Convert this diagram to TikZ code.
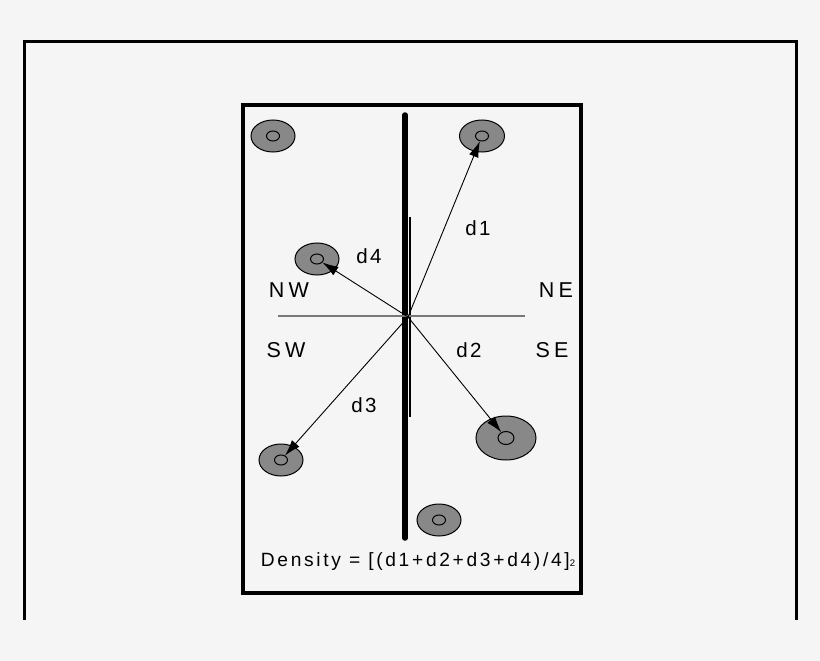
\documentclass[tikz,border=0pt]{standalone}
\usepackage{fontspec}
\setmainfont{Liberation Sans}
\usetikzlibrary{shapes.geometric, arrows.meta}
\definecolor{bg}{RGB}{245,245,245}
\definecolor{discgray}{RGB}{136,136,136}
\definecolor{axisgray}{RGB}{120,120,120}

\begin{document}
\begin{tikzpicture}[x=1pt, y=-1pt,
  disc/.style={ellipse, draw, line width=1pt, fill=discgray, inner sep=0pt},
  hole/.style={ellipse, draw, line width=1pt, fill=discgray, inner sep=0pt},
  arr/.style={line width=0.9pt, -{Latex[length=16pt, width=10pt]}},
  compass/.style={font=\fontsize{21.5}{25}\selectfont\addfontfeatures{LetterSpace=20}},
  dist/.style={font=\fontsize{20.5}{24}\selectfont\addfontfeatures{LetterSpace=12}}]
\fill[bg] (0,0) rectangle (820,661);
\useasboundingbox (0,0) rectangle (820,661);
% frames
\draw[line width=3pt] (24,620)--(24,42)--(796,42)--(796,620);
\draw[line width=4.5pt] (243,105) rectangle (581,593);
% dividing lines
\draw[line width=5.5pt, line cap=round] (405,115)--(405,538);
\draw[line width=1.3pt] (410,217)--(410,417);
\draw[line width=1.5pt, axisgray] (278,316)--(525,316);
\coordinate (c) at (408,317);
% discs
\foreach \n/\x/\y/\w/\h/\iw/\ih in {nwa/273/136/44/32/13/10, ne/482/136/45/32/13/10, nw/317/259/44/32/13/10,
    sw/281/460/44/32/13/10, se/506/438/60/44/16/13, sb/439/520/44/32/13/10}{
  \node[disc, minimum width=\w pt, minimum height=\h pt] (\n) at (\x,\y) {};
  \node[hole, minimum width=\iw pt, minimum height=\ih pt] (h-\n) at (\x,\y) {};
}
% distances
\draw[arr] (c)--(h-ne);
\draw[arr] (c)--(h-se);
\draw[arr] (c)--(h-sw);
\draw[arr] (c)--(h-nw);
\node[dist] (d1) at (478,228) {d1};
\node[dist] (d2) at (469,350) {d2};
\node[dist] (d3) at (364,405) {d3};
\node[dist] (d4) at (369,256) {d4};
\node[compass] (lnw) at (289,290) {NW};
\node[compass] (lne) at (556,290) {NE};
\node[compass] (lsw) at (286,350) {SW};
\node[compass] (lse) at (552,350) {SE};
\node[font=\fontsize{19.2}{22}\selectfont\addfontfeatures{LetterSpace=14}] (dens) at (418,562)
  {Density = [(d1+d2+d3+d4)/4]{\fontsize{9.5}{10}\selectfont 2}};
\end{tikzpicture}
\end{document}
